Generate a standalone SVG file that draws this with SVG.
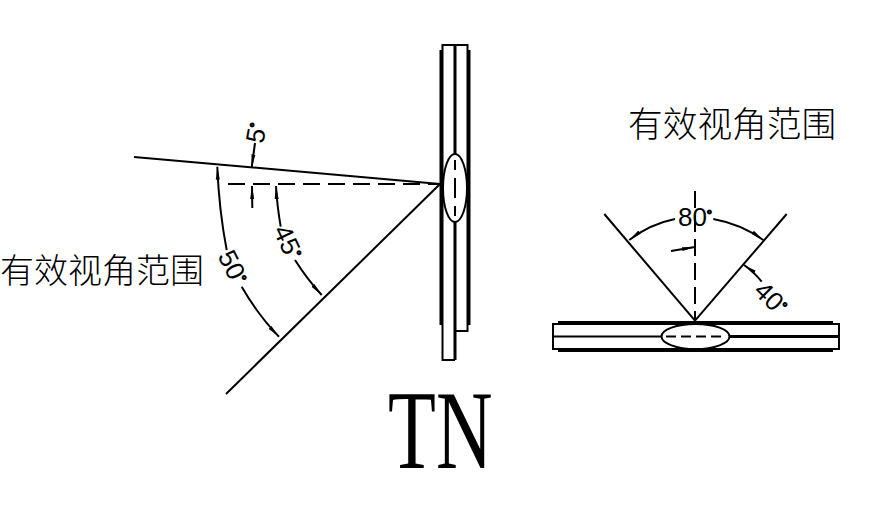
<svg xmlns="http://www.w3.org/2000/svg" width="892" height="519" viewBox="0 0 892 519">
<style>
.l{fill:none;stroke:#000;stroke-width:2}
.t{fill:none;stroke:#000;stroke-width:2}
.k{fill:none;stroke:#000;stroke-width:3}
.a{fill:none;stroke:#000;stroke-width:2}
.n{font-family:"Liberation Sans",Arial,sans-serif;font-size:26px;fill:#000;stroke:#fff;stroke-width:0;text-anchor:middle}
.o{font-size:13px;stroke:#000;stroke-width:1.300}
.c{font-family:"Noto Sans CJK SC",sans-serif;font-weight:300;fill:#000}
</style>
<defs>
<marker id="h" markerWidth="14" markerHeight="6" refX="13" refY="3" orient="auto" markerUnits="userSpaceOnUse"><path d="M0 1L13 3L0 5Z" fill="#000"/></marker>
</defs>
<rect width="892" height="519" fill="#fff"/>
<g id="panel-vertical">
<path class="t" d="M455 45H442.500V360H455"/>
<path class="t" d="M455 45H467.500V331H455"/>
<path class="k" d="M441 50V325M469 50V325"/>
<path class="k" d="M455 45V154M455 222V360"/>
<ellipse class="l" cx="455" cy="188" rx="12" ry="34"/>
<path class="l" d="M455 160V170M455 178V198M455 206V216"/>
</g>
<g id="panel-horizontal">
<rect class="t" x="553" y="324" width="286" height="25"/>
<path class="k" d="M558 322.500H833M558 350.500H833"/>
<path class="t" d="M553 336.500H661"/>
<path class="k" d="M729 336.500H839"/>
<ellipse class="l" cx="695.500" cy="336.500" rx="34" ry="12.500"/>
<path class="t" d="M666 336.500H725" stroke-dasharray="10 5" stroke-width="1.500"/>
</g>
<g id="connectors">
<path class="l" d="M134 157L440 184"/>
<path class="l" d="M440 184L226 394"/>
<path class="l" d="M228 184H440" stroke-dasharray="17 8"/>
<path class="a" marker-end="url(#h)" d="M226.700 250Q219 210 217.300 166.700"/>
<path class="a" marker-end="url(#h)" d="M241.700 286.700Q258 315 279 336.700"/>
<path class="a" marker-end="url(#h)" d="M280.700 226.700Q277 205 276 186"/>
<path class="a" marker-end="url(#h)" d="M295 260Q307 279 321.700 295"/>
<path class="a" marker-end="url(#h)" d="M255 143L251.700 167.300"/>
<path class="a" marker-end="url(#h)" d="M252.300 208L252 186"/>
<path class="l" d="M695 320.700L604.300 214"/>
<path class="l" d="M695 320.700L786.700 214"/>
<path class="l" d="M695 191V320" stroke-dasharray="17 7"/>
<path class="a" marker-end="url(#h)" d="M675 219Q650 224 629.300 240"/>
<path class="a" marker-end="url(#h)" d="M713.300 219Q741 224 763.300 240"/>
<path class="a" marker-end="url(#h)" d="M671 251L695 247"/>
<path class="a" marker-end="url(#h)" d="M761.700 281.700Q754 272 744 265"/>
</g>
<g id="labels">
<text class="n" transform="translate(256 133) rotate(-80)" y="9">5<tspan class="o" dy="-7">°</tspan></text>
<text class="n" transform="translate(288 242) rotate(65)" y="9">45<tspan class="o" dy="-7">°</tspan></text>
<text class="n" transform="translate(233 267) rotate(63)" y="9">50<tspan class="o" dy="-7">°</tspan></text>
<text class="n" x="695" y="226">80<tspan class="o" dy="-7">°</tspan></text>
<text class="n" transform="translate(771 298) rotate(45)" y="9">40<tspan class="o" dy="-7">°</tspan></text>
<text class="c" x="0" y="283" font-size="34">有效视角范围</text>
<text class="c" x="628" y="137" font-size="34.700">有效视角范围</text>
<text transform="translate(388 468) scale(.7 1)" font-family="Liberation Serif,serif" font-size="112">TN</text>
</g>
</svg>
